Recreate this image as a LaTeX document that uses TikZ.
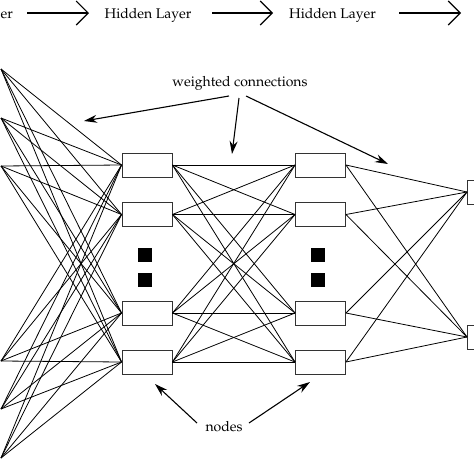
\documentclass[tikz,border=0pt]{standalone}
\usepackage[T1]{fontenc}
\usepackage{mathpazo}
\usetikzlibrary{arrows.meta}
\begin{document}
\begin{tikzpicture}[x=1pt,y=-1pt,
  unit/.style={draw=black!80,line width=0.9pt,minimum width=50pt,minimum height=24pt,inner sep=0pt,fill=white},
  conn/.style={line width=0.8pt},
  lbl/.style={font=\fontsize{14}{16}\selectfont,inner sep=0pt,anchor=base},
  flow/.style={line width=1.1pt,-{Straight Barb[length=12pt,width=24pt,line width=1.1pt]}},
  point/.style={line width=1.1pt,-{Stealth[length=13pt,width=8pt]}},
  dot/.style={fill=black,minimum size=14pt,inner sep=0pt}]
\clip (0,0) rectangle (474,474);
\fill[white] (0,0) rectangle (474,474);
% input layer (off the page, only the ends of the connectors show)
\foreach \n/\y in {1/69,2/118,3/166,4/361,5/409,6/458}
  \coordinate (i\n) at (1,\y);
% hidden layers
\foreach \n/\y in {1/165,2/214.5,3/313,4/362}{
  \node[unit] (a\n) at (147,\y) {};
  \node[unit] (b\n) at (320.5,\y) {};
}
% output layer
\node[unit,anchor=west] (o1) at (467,192) {};
\node[unit,anchor=west] (o2) at (467,337) {};
% connections
\foreach \i in {1,...,6}
  \foreach \j in {1,...,4}
    \draw[conn] (i\i) -- (a\j.west);
\foreach \i in {1,...,4}
  \foreach \j in {1,...,4}
    \draw[conn] (a\i.east) -- (b\j.west);
\foreach \i in {1,...,4}
  \foreach \j in {1,2}
    \draw[conn] (b\i.east) -- (o\j.west);
% ellipsis squares
\node[dot] (d1) at (145,255) {};
\node[dot] (d2) at (145,280) {};
\node[dot] (d3) at (318,255) {};
\node[dot] (d4) at (318,280) {};
% top flow
\node[lbl,anchor=base east] (t0) at (13,18) {er};
\node[lbl] (t1) at (148,18) {Hidden Layer};
\node[lbl] (t2) at (332.5,18) {Hidden Layer};
\coordinate (f1a) at (27,13); \coordinate (f1b) at (89,13);
\coordinate (f2a) at (212,13); \coordinate (f2b) at (273,13);
\coordinate (f3a) at (399,13); \coordinate (f3b) at (461,13);
\draw[flow] (f1a) -- (f1b);
\draw[flow] (f2a) -- (f2b);
\draw[flow] (f3a) -- (f3b);
% annotations
\node[lbl] (wc) at (240,86) {weighted connections};
\coordinate (w1s) at (229,96); \coordinate (w1e) at (84,121);
\coordinate (w2s) at (239,98); \coordinate (w2e) at (232,154);
\coordinate (w3s) at (246,96); \coordinate (w3e) at (388,164);
\draw[point] (w1s) -- (w1e);
\draw[point] (w2s) -- (w2e);
\draw[point] (w3s) -- (w3e);
\node[lbl] (nd) at (224,431) {nodes};
\coordinate (n1s) at (197,423); \coordinate (n1e) at (155,384);
\coordinate (n2s) at (249,423); \coordinate (n2e) at (310,382);
\draw[point] (n1s) -- (n1e);
\draw[point] (n2s) -- (n2e);
\end{tikzpicture}
\end{document}
